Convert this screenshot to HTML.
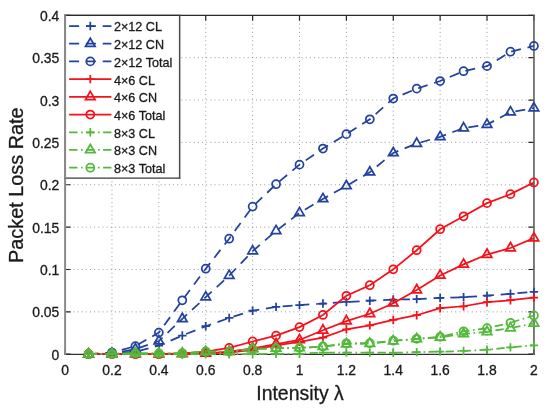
<!DOCTYPE html>
<html><head><meta charset="utf-8"><style>
html,body{margin:0;padding:0;background:#fff;}
svg{display:block;}
text{font-family:"Liberation Sans",Arial,sans-serif;fill:#1a1a1a;stroke:#1a1a1a;stroke-width:0.3px;}
</style></head><body>
<svg width="550" height="412" viewBox="0 0 550 412">
<rect width="550" height="412" fill="#fff"/>
<g stroke="#262626" stroke-opacity="0.45" stroke-width="1" stroke-dasharray="1 3.15" fill="none"><path d="M111.98 15.30V354.20"/><path d="M158.86 15.30V354.20"/><path d="M205.74 15.30V354.20"/><path d="M252.62 15.30V354.20"/><path d="M299.50 15.30V354.20"/><path d="M346.38 15.30V354.20"/><path d="M393.26 15.30V354.20"/><path d="M440.14 15.30V354.20"/><path d="M487.02 15.30V354.20"/><path d="M65.10 311.84H533.90"/><path d="M65.10 269.48H533.90"/><path d="M65.10 227.11H533.90"/><path d="M65.10 184.75H533.90"/><path d="M65.10 142.39H533.90"/><path d="M65.10 100.03H533.90"/><path d="M65.10 57.66H533.90"/></g>
<g stroke="#262626" stroke-width="1.2" fill="none"><path d="M65.10 354.20v-5.5M65.10 15.30v5.5"/><path d="M111.98 354.20v-5.5M111.98 15.30v5.5"/><path d="M158.86 354.20v-5.5M158.86 15.30v5.5"/><path d="M205.74 354.20v-5.5M205.74 15.30v5.5"/><path d="M252.62 354.20v-5.5M252.62 15.30v5.5"/><path d="M299.50 354.20v-5.5M299.50 15.30v5.5"/><path d="M346.38 354.20v-5.5M346.38 15.30v5.5"/><path d="M393.26 354.20v-5.5M393.26 15.30v5.5"/><path d="M440.14 354.20v-5.5M440.14 15.30v5.5"/><path d="M487.02 354.20v-5.5M487.02 15.30v5.5"/><path d="M533.90 354.20v-5.5M533.90 15.30v5.5"/><path d="M65.10 354.20h5.5M533.90 354.20h-5.5"/><path d="M65.10 311.84h5.5M533.90 311.84h-5.5"/><path d="M65.10 269.48h5.5M533.90 269.48h-5.5"/><path d="M65.10 227.11h5.5M533.90 227.11h-5.5"/><path d="M65.10 184.75h5.5M533.90 184.75h-5.5"/><path d="M65.10 142.39h5.5M533.90 142.39h-5.5"/><path d="M65.10 100.03h5.5M533.90 100.03h-5.5"/><path d="M65.10 57.66h5.5M533.90 57.66h-5.5"/><path d="M65.10 15.30h5.5M533.90 15.30h-5.5"/></g>
<path d="M64.10 15.30H534.70" stroke="#2b2b2b" stroke-width="1.2"/>
<path d="M64.10 354.35H534.70" stroke="#303030" stroke-width="1.3"/>
<path d="M65.10 14.70V355.00" stroke="#8a8a8a" stroke-width="2"/>
<path d="M533.95 14.70V355.00" stroke="#5c5c5c" stroke-width="1.6"/>
<g stroke-width="1.75" fill="none">
<path d="M88.54 354.20 L111.98 353.35 L135.42 351.66 L158.86 345.73 L182.30 335.56 L205.74 326.24 L229.18 317.94 L252.62 310.74 L276.06 306.92 L299.50 305.14 L322.94 303.53 L346.38 301.92 L369.82 300.74 L393.26 299.55 L416.70 299.13 L440.14 297.86 L463.58 297.18 L487.02 295.66 L510.46 293.79 L533.90 291.84" stroke="#2342a0" fill="none" stroke-dasharray="10 6.8"/><path d="M84.34 354.20H92.74M88.54 350.00V358.40" stroke="#2342a0"/><path d="M107.78 353.35H116.18M111.98 349.15V357.55" stroke="#2342a0"/><path d="M131.22 351.66H139.62M135.42 347.46V355.86" stroke="#2342a0"/><path d="M154.66 345.73H163.06M158.86 341.53V349.93" stroke="#2342a0"/><path d="M178.10 335.56H186.50M182.30 331.36V339.76" stroke="#2342a0"/><path d="M201.54 326.24H209.94M205.74 322.04V330.44" stroke="#2342a0"/><path d="M224.98 317.94H233.38M229.18 313.74V322.14" stroke="#2342a0"/><path d="M248.42 310.74H256.82M252.62 306.54V314.94" stroke="#2342a0"/><path d="M271.86 306.92H280.26M276.06 302.72V311.12" stroke="#2342a0"/><path d="M295.30 305.14H303.70M299.50 300.94V309.34" stroke="#2342a0"/><path d="M318.74 303.53H327.14M322.94 299.33V307.73" stroke="#2342a0"/><path d="M342.18 301.92H350.58M346.38 297.72V306.12" stroke="#2342a0"/><path d="M365.62 300.74H374.02M369.82 296.54V304.94" stroke="#2342a0"/><path d="M389.06 299.55H397.46M393.26 295.35V303.75" stroke="#2342a0"/><path d="M412.50 299.13H420.90M416.70 294.93V303.33" stroke="#2342a0"/><path d="M435.94 297.86H444.34M440.14 293.66V302.06" stroke="#2342a0"/><path d="M459.38 297.18H467.78M463.58 292.98V301.38" stroke="#2342a0"/><path d="M482.82 295.66H491.22M487.02 291.46V299.86" stroke="#2342a0"/><path d="M506.26 293.79H514.66M510.46 289.59V297.99" stroke="#2342a0"/><path d="M529.70 291.84H538.10M533.90 287.64V296.04" stroke="#2342a0"/>
<path d="M88.54 354.20 L111.98 353.35 L135.42 349.12 L158.86 341.07 L182.30 318.78 L205.74 297.18 L229.18 275.66 L252.62 251.17 L276.06 230.93 L299.50 212.88 L322.94 198.90 L346.38 185.94 L369.82 172.21 L393.26 152.98 L416.70 143.57 L440.14 136.88 L463.58 128.07 L487.02 124.60 L510.46 112.14 L533.90 108.07" stroke="#2342a0" fill="none" stroke-dasharray="10 6.8"/><path d="M88.54 348.70L93.30 356.95H83.78Z" stroke="#2342a0" fill="none" stroke-linejoin="miter"/><path d="M111.98 347.85L116.74 356.10H107.22Z" stroke="#2342a0" fill="none" stroke-linejoin="miter"/><path d="M135.42 343.62L140.18 351.87H130.66Z" stroke="#2342a0" fill="none" stroke-linejoin="miter"/><path d="M158.86 335.57L163.62 343.82H154.10Z" stroke="#2342a0" fill="none" stroke-linejoin="miter"/><path d="M182.30 313.28L187.06 321.53H177.54Z" stroke="#2342a0" fill="none" stroke-linejoin="miter"/><path d="M205.74 291.68L210.50 299.93H200.98Z" stroke="#2342a0" fill="none" stroke-linejoin="miter"/><path d="M229.18 270.16L233.94 278.41H224.42Z" stroke="#2342a0" fill="none" stroke-linejoin="miter"/><path d="M252.62 245.67L257.38 253.92H247.86Z" stroke="#2342a0" fill="none" stroke-linejoin="miter"/><path d="M276.06 225.43L280.82 233.68H271.30Z" stroke="#2342a0" fill="none" stroke-linejoin="miter"/><path d="M299.50 207.38L304.26 215.63H294.74Z" stroke="#2342a0" fill="none" stroke-linejoin="miter"/><path d="M322.94 193.40L327.70 201.65H318.18Z" stroke="#2342a0" fill="none" stroke-linejoin="miter"/><path d="M346.38 180.44L351.14 188.69H341.62Z" stroke="#2342a0" fill="none" stroke-linejoin="miter"/><path d="M369.82 166.71L374.58 174.96H365.06Z" stroke="#2342a0" fill="none" stroke-linejoin="miter"/><path d="M393.26 147.48L398.02 155.73H388.50Z" stroke="#2342a0" fill="none" stroke-linejoin="miter"/><path d="M416.70 138.07L421.46 146.32H411.94Z" stroke="#2342a0" fill="none" stroke-linejoin="miter"/><path d="M440.14 131.38L444.90 139.63H435.38Z" stroke="#2342a0" fill="none" stroke-linejoin="miter"/><path d="M463.58 122.57L468.34 130.82H458.82Z" stroke="#2342a0" fill="none" stroke-linejoin="miter"/><path d="M487.02 119.10L491.78 127.35H482.26Z" stroke="#2342a0" fill="none" stroke-linejoin="miter"/><path d="M510.46 106.64L515.22 114.89H505.70Z" stroke="#2342a0" fill="none" stroke-linejoin="miter"/><path d="M533.90 102.57L538.66 110.82H529.14Z" stroke="#2342a0" fill="none" stroke-linejoin="miter"/>
<path d="M88.54 354.20 L111.98 352.51 L135.42 346.15 L158.86 332.60 L182.30 300.31 L205.74 268.71 L229.18 238.72 L252.62 206.61 L276.06 184.24 L299.50 164.67 L322.94 148.57 L346.38 134.17 L369.82 119.26 L393.26 98.50 L416.70 88.67 L440.14 81.05 L463.58 71.22 L487.02 66.13 L510.46 51.73 L533.90 45.97" stroke="#2342a0" fill="none" stroke-dasharray="10 6.8"/><circle cx="88.54" cy="354.20" r="4.00" stroke="#2342a0" fill="none"/><circle cx="111.98" cy="352.51" r="4.00" stroke="#2342a0" fill="none"/><circle cx="135.42" cy="346.15" r="4.00" stroke="#2342a0" fill="none"/><circle cx="158.86" cy="332.60" r="4.00" stroke="#2342a0" fill="none"/><circle cx="182.30" cy="300.31" r="4.00" stroke="#2342a0" fill="none"/><circle cx="205.74" cy="268.71" r="4.00" stroke="#2342a0" fill="none"/><circle cx="229.18" cy="238.72" r="4.00" stroke="#2342a0" fill="none"/><circle cx="252.62" cy="206.61" r="4.00" stroke="#2342a0" fill="none"/><circle cx="276.06" cy="184.24" r="4.00" stroke="#2342a0" fill="none"/><circle cx="299.50" cy="164.67" r="4.00" stroke="#2342a0" fill="none"/><circle cx="322.94" cy="148.57" r="4.00" stroke="#2342a0" fill="none"/><circle cx="346.38" cy="134.17" r="4.00" stroke="#2342a0" fill="none"/><circle cx="369.82" cy="119.26" r="4.00" stroke="#2342a0" fill="none"/><circle cx="393.26" cy="98.50" r="4.00" stroke="#2342a0" fill="none"/><circle cx="416.70" cy="88.67" r="4.00" stroke="#2342a0" fill="none"/><circle cx="440.14" cy="81.05" r="4.00" stroke="#2342a0" fill="none"/><circle cx="463.58" cy="71.22" r="4.00" stroke="#2342a0" fill="none"/><circle cx="487.02" cy="66.13" r="4.00" stroke="#2342a0" fill="none"/><circle cx="510.46" cy="51.73" r="4.00" stroke="#2342a0" fill="none"/><circle cx="533.90" cy="45.97" r="4.00" stroke="#2342a0" fill="none"/>
<path d="M88.54 354.20 L111.98 354.20 L135.42 354.20 L158.86 354.20 L182.30 353.95 L205.74 353.35 L229.18 352.51 L252.62 349.96 L276.06 345.30 L299.50 341.83 L322.94 337.59 L346.38 329.29 L369.82 325.39 L393.26 319.97 L416.70 315.23 L440.14 308.19 L463.58 306.25 L487.02 302.18 L510.46 300.23 L533.90 297.60" stroke="#f5101a" fill="none"/><path d="M84.34 354.20H92.74M88.54 350.00V358.40" stroke="#f5101a"/><path d="M107.78 354.20H116.18M111.98 350.00V358.40" stroke="#f5101a"/><path d="M131.22 354.20H139.62M135.42 350.00V358.40" stroke="#f5101a"/><path d="M154.66 354.20H163.06M158.86 350.00V358.40" stroke="#f5101a"/><path d="M178.10 353.95H186.50M182.30 349.75V358.15" stroke="#f5101a"/><path d="M201.54 353.35H209.94M205.74 349.15V357.55" stroke="#f5101a"/><path d="M224.98 352.51H233.38M229.18 348.31V356.71" stroke="#f5101a"/><path d="M248.42 349.96H256.82M252.62 345.76V354.16" stroke="#f5101a"/><path d="M271.86 345.30H280.26M276.06 341.10V349.50" stroke="#f5101a"/><path d="M295.30 341.83H303.70M299.50 337.63V346.03" stroke="#f5101a"/><path d="M318.74 337.59H327.14M322.94 333.39V341.79" stroke="#f5101a"/><path d="M342.18 329.29H350.58M346.38 325.09V333.49" stroke="#f5101a"/><path d="M365.62 325.39H374.02M369.82 321.19V329.59" stroke="#f5101a"/><path d="M389.06 319.97H397.46M393.26 315.77V324.17" stroke="#f5101a"/><path d="M412.50 315.23H420.90M416.70 311.03V319.43" stroke="#f5101a"/><path d="M435.94 308.19H444.34M440.14 303.99V312.39" stroke="#f5101a"/><path d="M459.38 306.25H467.78M463.58 302.05V310.45" stroke="#f5101a"/><path d="M482.82 302.18H491.22M487.02 297.98V306.38" stroke="#f5101a"/><path d="M506.26 300.23H514.66M510.46 296.03V304.43" stroke="#f5101a"/><path d="M529.70 297.60H538.10M533.90 293.40V301.80" stroke="#f5101a"/>
<path d="M88.54 354.20 L111.98 354.20 L135.42 354.20 L158.86 354.20 L182.30 353.95 L205.74 353.35 L229.18 351.66 L252.62 348.27 L276.06 344.03 L299.50 339.97 L322.94 330.31 L346.38 321.07 L369.82 313.79 L393.26 303.20 L416.70 290.06 L440.14 275.41 L463.58 264.39 L487.02 254.56 L510.46 248.04 L533.90 238.13" stroke="#f5101a" fill="none"/><path d="M88.54 348.70L93.30 356.95H83.78Z" stroke="#f5101a" fill="none" stroke-linejoin="miter"/><path d="M111.98 348.70L116.74 356.95H107.22Z" stroke="#f5101a" fill="none" stroke-linejoin="miter"/><path d="M135.42 348.70L140.18 356.95H130.66Z" stroke="#f5101a" fill="none" stroke-linejoin="miter"/><path d="M158.86 348.70L163.62 356.95H154.10Z" stroke="#f5101a" fill="none" stroke-linejoin="miter"/><path d="M182.30 348.45L187.06 356.70H177.54Z" stroke="#f5101a" fill="none" stroke-linejoin="miter"/><path d="M205.74 347.85L210.50 356.10H200.98Z" stroke="#f5101a" fill="none" stroke-linejoin="miter"/><path d="M229.18 346.16L233.94 354.41H224.42Z" stroke="#f5101a" fill="none" stroke-linejoin="miter"/><path d="M252.62 342.77L257.38 351.02H247.86Z" stroke="#f5101a" fill="none" stroke-linejoin="miter"/><path d="M276.06 338.53L280.82 346.78H271.30Z" stroke="#f5101a" fill="none" stroke-linejoin="miter"/><path d="M299.50 334.47L304.26 342.72H294.74Z" stroke="#f5101a" fill="none" stroke-linejoin="miter"/><path d="M322.94 324.81L327.70 333.06H318.18Z" stroke="#f5101a" fill="none" stroke-linejoin="miter"/><path d="M346.38 315.57L351.14 323.82H341.62Z" stroke="#f5101a" fill="none" stroke-linejoin="miter"/><path d="M369.82 308.29L374.58 316.54H365.06Z" stroke="#f5101a" fill="none" stroke-linejoin="miter"/><path d="M393.26 297.70L398.02 305.95H388.50Z" stroke="#f5101a" fill="none" stroke-linejoin="miter"/><path d="M416.70 284.56L421.46 292.81H411.94Z" stroke="#f5101a" fill="none" stroke-linejoin="miter"/><path d="M440.14 269.91L444.90 278.16H435.38Z" stroke="#f5101a" fill="none" stroke-linejoin="miter"/><path d="M463.58 258.89L468.34 267.14H458.82Z" stroke="#f5101a" fill="none" stroke-linejoin="miter"/><path d="M487.02 249.06L491.78 257.31H482.26Z" stroke="#f5101a" fill="none" stroke-linejoin="miter"/><path d="M510.46 242.54L515.22 250.79H505.70Z" stroke="#f5101a" fill="none" stroke-linejoin="miter"/><path d="M533.90 232.63L538.66 240.88H529.14Z" stroke="#f5101a" fill="none" stroke-linejoin="miter"/>
<path d="M88.54 354.20 L111.98 354.20 L135.42 354.20 L158.86 354.20 L182.30 353.35 L205.74 351.66 L229.18 347.93 L252.62 341.49 L276.06 335.65 L299.50 327.09 L322.94 314.97 L346.38 295.82 L369.82 285.23 L393.26 269.31 L416.70 250.24 L440.14 229.23 L463.58 216.27 L487.02 203.14 L510.46 194.15 L533.90 182.46" stroke="#f5101a" fill="none"/><circle cx="88.54" cy="354.20" r="4.00" stroke="#f5101a" fill="none"/><circle cx="111.98" cy="354.20" r="4.00" stroke="#f5101a" fill="none"/><circle cx="135.42" cy="354.20" r="4.00" stroke="#f5101a" fill="none"/><circle cx="158.86" cy="354.20" r="4.00" stroke="#f5101a" fill="none"/><circle cx="182.30" cy="353.35" r="4.00" stroke="#f5101a" fill="none"/><circle cx="205.74" cy="351.66" r="4.00" stroke="#f5101a" fill="none"/><circle cx="229.18" cy="347.93" r="4.00" stroke="#f5101a" fill="none"/><circle cx="252.62" cy="341.49" r="4.00" stroke="#f5101a" fill="none"/><circle cx="276.06" cy="335.65" r="4.00" stroke="#f5101a" fill="none"/><circle cx="299.50" cy="327.09" r="4.00" stroke="#f5101a" fill="none"/><circle cx="322.94" cy="314.97" r="4.00" stroke="#f5101a" fill="none"/><circle cx="346.38" cy="295.82" r="4.00" stroke="#f5101a" fill="none"/><circle cx="369.82" cy="285.23" r="4.00" stroke="#f5101a" fill="none"/><circle cx="393.26" cy="269.31" r="4.00" stroke="#f5101a" fill="none"/><circle cx="416.70" cy="250.24" r="4.00" stroke="#f5101a" fill="none"/><circle cx="440.14" cy="229.23" r="4.00" stroke="#f5101a" fill="none"/><circle cx="463.58" cy="216.27" r="4.00" stroke="#f5101a" fill="none"/><circle cx="487.02" cy="203.14" r="4.00" stroke="#f5101a" fill="none"/><circle cx="510.46" cy="194.15" r="4.00" stroke="#f5101a" fill="none"/><circle cx="533.90" cy="182.46" r="4.00" stroke="#f5101a" fill="none"/>
<path d="M88.54 354.20 L111.98 354.20 L135.42 354.20 L158.86 354.20 L182.30 354.20 L205.74 354.20 L229.18 354.20 L252.62 354.20 L276.06 353.78 L299.50 353.78 L322.94 352.51 L346.38 352.51 L369.82 352.51 L393.26 352.76 L416.70 352.17 L440.14 351.66 L463.58 350.98 L487.02 349.71 L510.46 347.42 L533.90 345.30" stroke="#52b93a" fill="none" stroke-dasharray="8.4 3.6 1.6 3.4"/><path d="M84.34 354.20H92.74M88.54 350.00V358.40" stroke="#52b93a"/><path d="M107.78 354.20H116.18M111.98 350.00V358.40" stroke="#52b93a"/><path d="M131.22 354.20H139.62M135.42 350.00V358.40" stroke="#52b93a"/><path d="M154.66 354.20H163.06M158.86 350.00V358.40" stroke="#52b93a"/><path d="M178.10 354.20H186.50M182.30 350.00V358.40" stroke="#52b93a"/><path d="M201.54 354.20H209.94M205.74 350.00V358.40" stroke="#52b93a"/><path d="M224.98 354.20H233.38M229.18 350.00V358.40" stroke="#52b93a"/><path d="M248.42 354.20H256.82M252.62 350.00V358.40" stroke="#52b93a"/><path d="M271.86 353.78H280.26M276.06 349.58V357.98" stroke="#52b93a"/><path d="M295.30 353.78H303.70M299.50 349.58V357.98" stroke="#52b93a"/><path d="M318.74 352.51H327.14M322.94 348.31V356.71" stroke="#52b93a"/><path d="M342.18 352.51H350.58M346.38 348.31V356.71" stroke="#52b93a"/><path d="M365.62 352.51H374.02M369.82 348.31V356.71" stroke="#52b93a"/><path d="M389.06 352.76H397.46M393.26 348.56V356.96" stroke="#52b93a"/><path d="M412.50 352.17H420.90M416.70 347.97V356.37" stroke="#52b93a"/><path d="M435.94 351.66H444.34M440.14 347.46V355.86" stroke="#52b93a"/><path d="M459.38 350.98H467.78M463.58 346.78V355.18" stroke="#52b93a"/><path d="M482.82 349.71H491.22M487.02 345.51V353.91" stroke="#52b93a"/><path d="M506.26 347.42H514.66M510.46 343.22V351.62" stroke="#52b93a"/><path d="M529.70 345.30H538.10M533.90 341.10V349.50" stroke="#52b93a"/>
<path d="M88.54 354.20 L111.98 353.78 L135.42 353.35 L158.86 353.35 L182.30 353.35 L205.74 351.66 L229.18 351.66 L252.62 349.12 L276.06 348.27 L299.50 347.85 L322.94 346.57 L346.38 344.03 L369.82 343.61 L393.26 341.07 L416.70 338.95 L440.14 337.25 L463.58 333.87 L487.02 331.75 L510.46 328.10 L533.90 323.28" stroke="#52b93a" fill="none" stroke-dasharray="8.4 3.6 1.6 3.4"/><path d="M88.54 348.70L93.30 356.95H83.78Z" stroke="#52b93a" fill="none" stroke-linejoin="miter"/><path d="M111.98 348.28L116.74 356.53H107.22Z" stroke="#52b93a" fill="none" stroke-linejoin="miter"/><path d="M135.42 347.85L140.18 356.10H130.66Z" stroke="#52b93a" fill="none" stroke-linejoin="miter"/><path d="M158.86 347.85L163.62 356.10H154.10Z" stroke="#52b93a" fill="none" stroke-linejoin="miter"/><path d="M182.30 347.85L187.06 356.10H177.54Z" stroke="#52b93a" fill="none" stroke-linejoin="miter"/><path d="M205.74 346.16L210.50 354.41H200.98Z" stroke="#52b93a" fill="none" stroke-linejoin="miter"/><path d="M229.18 346.16L233.94 354.41H224.42Z" stroke="#52b93a" fill="none" stroke-linejoin="miter"/><path d="M252.62 343.62L257.38 351.87H247.86Z" stroke="#52b93a" fill="none" stroke-linejoin="miter"/><path d="M276.06 342.77L280.82 351.02H271.30Z" stroke="#52b93a" fill="none" stroke-linejoin="miter"/><path d="M299.50 342.35L304.26 350.60H294.74Z" stroke="#52b93a" fill="none" stroke-linejoin="miter"/><path d="M322.94 341.07L327.70 349.32H318.18Z" stroke="#52b93a" fill="none" stroke-linejoin="miter"/><path d="M346.38 338.53L351.14 346.78H341.62Z" stroke="#52b93a" fill="none" stroke-linejoin="miter"/><path d="M369.82 338.11L374.58 346.36H365.06Z" stroke="#52b93a" fill="none" stroke-linejoin="miter"/><path d="M393.26 335.57L398.02 343.82H388.50Z" stroke="#52b93a" fill="none" stroke-linejoin="miter"/><path d="M416.70 333.45L421.46 341.70H411.94Z" stroke="#52b93a" fill="none" stroke-linejoin="miter"/><path d="M440.14 331.75L444.90 340.00H435.38Z" stroke="#52b93a" fill="none" stroke-linejoin="miter"/><path d="M463.58 328.37L468.34 336.62H458.82Z" stroke="#52b93a" fill="none" stroke-linejoin="miter"/><path d="M487.02 326.25L491.78 334.50H482.26Z" stroke="#52b93a" fill="none" stroke-linejoin="miter"/><path d="M510.46 322.60L515.22 330.85H505.70Z" stroke="#52b93a" fill="none" stroke-linejoin="miter"/><path d="M533.90 317.78L538.66 326.03H529.14Z" stroke="#52b93a" fill="none" stroke-linejoin="miter"/>
<path d="M88.54 354.20 L111.98 353.78 L135.42 353.35 L158.86 353.35 L182.30 353.35 L205.74 351.66 L229.18 351.66 L252.62 348.86 L276.06 348.27 L299.50 347.85 L322.94 346.49 L346.38 343.27 L369.82 343.19 L393.26 340.73 L416.70 338.78 L440.14 336.92 L463.58 331.32 L487.02 328.19 L510.46 322.77 L533.90 315.48" stroke="#52b93a" fill="none" stroke-dasharray="8.4 3.6 1.6 3.4"/><circle cx="88.54" cy="354.20" r="4.00" stroke="#52b93a" fill="none"/><circle cx="111.98" cy="353.78" r="4.00" stroke="#52b93a" fill="none"/><circle cx="135.42" cy="353.35" r="4.00" stroke="#52b93a" fill="none"/><circle cx="158.86" cy="353.35" r="4.00" stroke="#52b93a" fill="none"/><circle cx="182.30" cy="353.35" r="4.00" stroke="#52b93a" fill="none"/><circle cx="205.74" cy="351.66" r="4.00" stroke="#52b93a" fill="none"/><circle cx="229.18" cy="351.66" r="4.00" stroke="#52b93a" fill="none"/><circle cx="252.62" cy="348.86" r="4.00" stroke="#52b93a" fill="none"/><circle cx="276.06" cy="348.27" r="4.00" stroke="#52b93a" fill="none"/><circle cx="299.50" cy="347.85" r="4.00" stroke="#52b93a" fill="none"/><circle cx="322.94" cy="346.49" r="4.00" stroke="#52b93a" fill="none"/><circle cx="346.38" cy="343.27" r="4.00" stroke="#52b93a" fill="none"/><circle cx="369.82" cy="343.19" r="4.00" stroke="#52b93a" fill="none"/><circle cx="393.26" cy="340.73" r="4.00" stroke="#52b93a" fill="none"/><circle cx="416.70" cy="338.78" r="4.00" stroke="#52b93a" fill="none"/><circle cx="440.14" cy="336.92" r="4.00" stroke="#52b93a" fill="none"/><circle cx="463.58" cy="331.32" r="4.00" stroke="#52b93a" fill="none"/><circle cx="487.02" cy="328.19" r="4.00" stroke="#52b93a" fill="none"/><circle cx="510.46" cy="322.77" r="4.00" stroke="#52b93a" fill="none"/><circle cx="533.90" cy="315.48" r="4.00" stroke="#52b93a" fill="none"/>
</g>
<g font-size="13.9"><text x="65.10" y="375.2" text-anchor="middle">0</text><text x="111.98" y="375.2" text-anchor="middle">0.2</text><text x="158.86" y="375.2" text-anchor="middle">0.4</text><text x="205.74" y="375.2" text-anchor="middle">0.6</text><text x="252.62" y="375.2" text-anchor="middle">0.8</text><text x="299.50" y="375.2" text-anchor="middle">1</text><text x="346.38" y="375.2" text-anchor="middle">1.2</text><text x="393.26" y="375.2" text-anchor="middle">1.4</text><text x="440.14" y="375.2" text-anchor="middle">1.6</text><text x="487.02" y="375.2" text-anchor="middle">1.8</text><text x="533.90" y="375.2" text-anchor="middle">2</text><text x="59.3" y="359.80" text-anchor="end">0</text><text x="59.3" y="317.44" text-anchor="end">0.05</text><text x="59.3" y="275.08" text-anchor="end">0.1</text><text x="59.3" y="232.71" text-anchor="end">0.15</text><text x="59.3" y="190.35" text-anchor="end">0.2</text><text x="59.3" y="147.99" text-anchor="end">0.25</text><text x="59.3" y="105.62" text-anchor="end">0.3</text><text x="59.3" y="63.26" text-anchor="end">0.35</text><text x="59.3" y="20.90" text-anchor="end">0.4</text></g>
<text x="300" y="399.6" text-anchor="middle" font-size="19.45">Intensity λ</text>
<text transform="translate(22.5 185.2) rotate(-90)" text-anchor="middle" font-size="19.85">Packet Loss Rate</text>
<rect x="65.10" y="15.30" width="114.55" height="162.80" fill="#fff"/><path d="M64.10 15.30H180.35" stroke="#2b2b2b" stroke-width="1.2"/><path d="M64.10 178.10H180.35" stroke="#3a3a3a" stroke-width="1.3"/><path d="M65.10 14.70V178.70" stroke="#8a8a8a" stroke-width="2"/><path d="M179.65 14.70V178.70" stroke="#4a4a4a" stroke-width="1.5"/><g stroke-width="1.75" fill="none"><path d="M69.1 26.00H111.4" stroke="#2342a0" stroke-dasharray="10 6.8"/><path d="M86.10 26.00H94.50M90.30 21.80V30.20" stroke="#2342a0"/><path d="M69.1 43.71H111.4" stroke="#2342a0" stroke-dasharray="10 6.8"/><path d="M90.30 38.21L95.06 46.46H85.54Z" stroke="#2342a0" fill="none" stroke-linejoin="miter"/><path d="M69.1 61.42H111.4" stroke="#2342a0" stroke-dasharray="10 6.8"/><circle cx="90.30" cy="61.42" r="4.00" stroke="#2342a0" fill="none"/><path d="M69.1 79.13H111.4" stroke="#f5101a"/><path d="M86.10 79.13H94.50M90.30 74.93V83.33" stroke="#f5101a"/><path d="M69.1 96.84H111.4" stroke="#f5101a"/><path d="M90.30 91.34L95.06 99.59H85.54Z" stroke="#f5101a" fill="none" stroke-linejoin="miter"/><path d="M69.1 114.55H111.4" stroke="#f5101a"/><circle cx="90.30" cy="114.55" r="4.00" stroke="#f5101a" fill="none"/><path d="M69.1 132.26H111.4" stroke="#52b93a" stroke-dasharray="8.4 3.6 1.6 3.4"/><path d="M86.10 132.26H94.50M90.30 128.06V136.46" stroke="#52b93a"/><path d="M69.1 149.97H111.4" stroke="#52b93a" stroke-dasharray="8.4 3.6 1.6 3.4"/><path d="M90.30 144.47L95.06 152.72H85.54Z" stroke="#52b93a" fill="none" stroke-linejoin="miter"/><path d="M69.1 167.68H111.4" stroke="#52b93a" stroke-dasharray="8.4 3.6 1.6 3.4"/><circle cx="90.30" cy="167.68" r="4.00" stroke="#52b93a" fill="none"/></g><text x="114" y="31.45" font-size="12.6" fill="#000">2×12 CL</text><text x="114" y="49.16" font-size="12.6" fill="#000">2×12 CN</text><text x="114" y="66.87" font-size="12.6" fill="#000">2×12 Total</text><text x="114" y="84.58" font-size="12.6" fill="#000">4×6 CL</text><text x="114" y="102.29" font-size="12.6" fill="#000">4×6 CN</text><text x="114" y="120.00" font-size="12.6" fill="#000">4×6 Total</text><text x="114" y="137.71" font-size="12.6" fill="#000">8×3 CL</text><text x="114" y="155.42" font-size="12.6" fill="#000">8×3 CN</text><text x="114" y="173.13" font-size="12.6" fill="#000">8×3 Total</text>
</svg></body></html>
